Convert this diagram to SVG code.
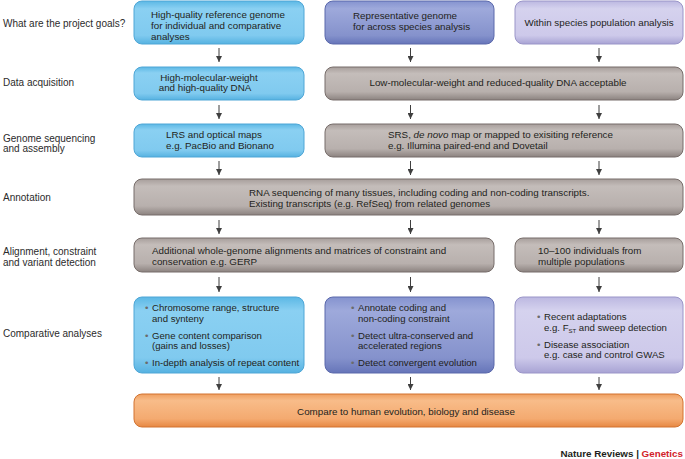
<svg xmlns="http://www.w3.org/2000/svg" width="685" height="459" viewBox="0 0 685 459">
<defs>
<linearGradient id="gBlue" x1="0" y1="0" x2="0" y2="1">
<stop offset="0" stop-color="#5cb8e5"/><stop offset="0.18" stop-color="#8ad0f2"/><stop offset="0.8" stop-color="#80caef"/><stop offset="1" stop-color="#56b2e1"/>
</linearGradient>
<linearGradient id="gPurple" x1="0" y1="0" x2="0" y2="1">
<stop offset="0" stop-color="#8593cf"/><stop offset="0.18" stop-color="#9ea9db"/><stop offset="0.8" stop-color="#8592cc"/><stop offset="1" stop-color="#6675b9"/>
</linearGradient>
<linearGradient id="gLav" x1="0" y1="0" x2="0" y2="1">
<stop offset="0" stop-color="#bcb8e1"/><stop offset="0.18" stop-color="#d5d2ee"/><stop offset="0.8" stop-color="#cdc9ea"/><stop offset="1" stop-color="#a8a3d4"/>
</linearGradient>
<linearGradient id="gGrey" x1="0" y1="0" x2="0" y2="1">
<stop offset="0" stop-color="#a79e9b"/><stop offset="0.2" stop-color="#c4bdba"/><stop offset="0.75" stop-color="#b8b0ad"/><stop offset="1" stop-color="#8c8380"/>
</linearGradient>
<linearGradient id="gOrange" x1="0" y1="0" x2="0" y2="1">
<stop offset="0" stop-color="#ef9e5f"/><stop offset="0.2" stop-color="#f8bc89"/><stop offset="0.75" stop-color="#f4aa70"/><stop offset="1" stop-color="#e78843"/>
</linearGradient>
<marker id="arr" viewBox="0 0 6 6" refX="6" refY="3" markerWidth="6" markerHeight="6" orient="auto" markerUnits="userSpaceOnUse">
<path d="M0,0 L6,3 L0,6 Z" fill="#3f3f3f"/>
</marker>
</defs>
<style>
text { font-family: "Liberation Sans", Arial, sans-serif; font-size: 9.8px; fill: #231f20; }
.lbl { fill: #2b2b2b; font-size: 10px; }
.sm { font-size: 9.6px; }
.blue { fill: url(#gBlue); stroke: #4ea6d6; stroke-width: 1; }
.purple { fill: url(#gPurple); stroke: #5a68ab; stroke-width: 1; }
.lav { fill: url(#gLav); stroke: #9a95c8; stroke-width: 1; }
.grey { fill: url(#gGrey); stroke: #776d6a; stroke-width: 1; }
.orange { fill: url(#gOrange); stroke: #d27330; stroke-width: 1; }
.bul { fill: #6b6b6b; }
.conn line { stroke: #3f3f3f; stroke-width: 1; marker-end: url(#arr); }
.foot { font-weight: bold; font-size: 9.8px; }
</style>
<rect width="685" height="459" fill="#ffffff"/>

<g id="row-labels">
<text class="lbl" x="3" y="26.5">What are the project goals?</text>
<text class="lbl" x="3" y="86">Data acquisition</text>
<text class="lbl" x="3" y="141.5">Genome sequencing</text>
<text class="lbl" x="3" y="152">and assembly</text>
<text class="lbl" x="3" y="201">Annotation</text>
<text class="lbl" x="3" y="255">Alignment, constraint</text>
<text class="lbl" x="3" y="265.5">and variant detection</text>
<text class="lbl" x="3" y="336.5">Comparative analyses</text>
</g>

<g id="goal-reference">
<rect class="blue" x="134" y="1" width="170" height="43" rx="8"/>
<text x="151" y="17.5">High-quality reference genome</text>
<text x="151" y="28.5">for individual and comparative</text>
<text x="151" y="39.5">analyses</text>
</g>
<g id="goal-representative">
<rect class="purple" x="325" y="1" width="169" height="43" rx="8"/>
<text x="353" y="18.5">Representative genome</text>
<text x="353" y="30">for across species analysis</text>
</g>
<g id="goal-population">
<rect class="lav" x="515" y="1" width="168" height="43" rx="8"/>
<text x="599" y="26" text-anchor="middle">Within species population analysis</text>
</g>

<g id="dna-high">
<rect class="blue" x="134" y="67" width="170" height="33" rx="8"/>
<text x="209" y="80.5" text-anchor="middle">High-molecular-weight</text>
<text x="205" y="91" text-anchor="middle">and high-quality DNA</text>
</g>
<g id="dna-low">
<rect class="grey" x="325" y="67" width="358" height="33" rx="8"/>
<text x="498" y="86" text-anchor="middle">Low-molecular-weight and reduced-quality DNA acceptable</text>
</g>

<g id="seq-lrs">
<rect class="blue" x="134" y="124" width="170" height="33" rx="8"/>
<text x="166" y="138">LRS and optical maps</text>
<text x="166" y="148.5">e.g. PacBio and Bionano</text>
</g>
<g id="seq-srs">
<rect class="grey" x="325" y="124" width="358" height="33" rx="8"/>
<text x="388" y="138">SRS, <tspan font-style="italic">de novo</tspan> map or mapped to exisiting reference</text>
<text x="388" y="148.5">e.g. Illumina paired-end and Dovetail</text>
</g>

<g id="annotation">
<rect class="grey" x="134" y="179" width="549" height="36" rx="8"/>
<text x="249" y="195.5">RNA sequencing of many tissues, including coding and non-coding transcripts.</text>
<text x="249" y="206.5">Existing transcripts (e.g. RefSeq) from related genomes</text>
</g>

<g id="align-conservation">
<rect class="grey" x="134" y="238" width="360" height="34" rx="8"/>
<text x="152" y="253.5">Additional whole-genome alignments and matrices of constraint and</text>
<text x="152" y="264.5">conservation e.g. GERP</text>
</g>
<g id="align-individuals">
<rect class="grey" x="515" y="238" width="168" height="34" rx="8"/>
<text x="538" y="253.5">10–100 individuals from</text>
<text x="538" y="264.5">multiple populations</text>
</g>

<g id="comp-reference">
<rect class="blue" x="134" y="297" width="170" height="76" rx="8"/>
<text class="bul" x="145" y="311">•</text>
<text class="sm" x="152" y="311">Chromosome range, structure</text>
<text class="sm" x="152" y="321.5">and synteny</text>
<text class="bul" x="145" y="338.5">•</text>
<text class="sm" x="152" y="338.5">Gene content comparison</text>
<text class="sm" x="152" y="349">(gains and losses)</text>
<text class="bul" x="145" y="366">•</text>
<text class="sm" x="152" y="366">In-depth analysis of repeat content</text>
</g>
<g id="comp-species">
<rect class="purple" x="325" y="297" width="169" height="76" rx="8"/>
<text class="bul" x="351" y="311">•</text>
<text class="sm" x="358" y="311">Annotate coding and</text>
<text class="sm" x="358" y="321.5">non-coding constraint</text>
<text class="bul" x="351" y="338.5">•</text>
<text class="sm" x="358" y="338.5">Detect ultra-conserved and</text>
<text class="sm" x="358" y="349">accelerated regions</text>
<text class="bul" x="351" y="366">•</text>
<text class="sm" x="358" y="366">Detect convergent evolution</text>
</g>
<g id="comp-population">
<rect class="lav" x="515" y="297" width="168" height="76" rx="8"/>
<text class="bul" x="537" y="320">•</text>
<text class="sm" x="544" y="320">Recent adaptations</text>
<text class="sm" x="544" y="330.5">e.g. F<tspan font-size="6px" dy="2">ST</tspan><tspan dy="-2"> and sweep detection</tspan></text>
<text class="bul" x="537" y="347.5">•</text>
<text class="sm" x="544" y="347.5">Disease association</text>
<text class="sm" x="544" y="358">e.g. case and control GWAS</text>
</g>

<g id="compare-human">
<rect class="orange" x="134" y="394" width="549" height="33" rx="8"/>
<text x="406" y="414.5" text-anchor="middle">Compare to human evolution, biology and disease</text>
</g>

<g id="connectors" class="conn">
<line x1="219" y1="48" x2="219" y2="62"/>
<line x1="410.5" y1="48" x2="410.5" y2="62"/>
<line x1="599" y1="48" x2="599" y2="62"/>
<line x1="219" y1="105" x2="219" y2="119"/>
<line x1="410.5" y1="105" x2="410.5" y2="119"/>
<line x1="599" y1="105" x2="599" y2="119"/>
<line x1="219" y1="161" x2="219" y2="175"/>
<line x1="410.5" y1="161" x2="410.5" y2="175"/>
<line x1="599" y1="161" x2="599" y2="175"/>
<line x1="219" y1="220" x2="219" y2="234"/>
<line x1="410.5" y1="220" x2="410.5" y2="234"/>
<line x1="599" y1="220" x2="599" y2="234"/>
<line x1="219" y1="277" x2="219" y2="292"/>
<line x1="410.5" y1="277" x2="410.5" y2="292"/>
<line x1="599" y1="277" x2="599" y2="292"/>
<line x1="219" y1="377" x2="219" y2="390"/>
<line x1="410.5" y1="377" x2="410.5" y2="390"/>
<line x1="599" y1="377" x2="599" y2="390"/>
</g>

<text class="foot" x="683" y="457" text-anchor="end">Nature Reviews | <tspan fill="#d2232a">Genetics</tspan></text>
</svg>
